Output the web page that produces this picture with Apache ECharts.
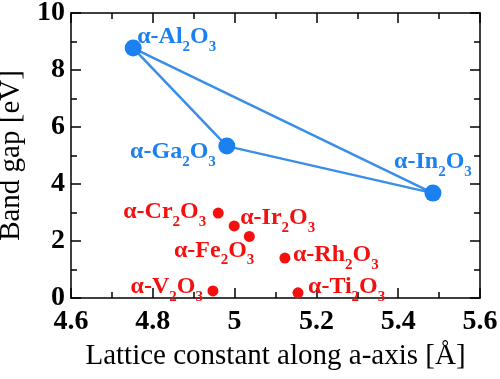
<!DOCTYPE html>
<html>
<head>
<meta charset="utf-8">
<script src="https://cdn.jsdelivr.net/npm/echarts@6/dist/echarts.min.js"></script>
<style>
  html, body { margin: 0; padding: 0; background: #fff; }
  #chart { width: 500px; height: 379px; }
</style>
</head>
<body>
<div id="chart"></div>
<script>
// group 13 sesquioxides (blue, joined as a triangle)
const blueNames = ['Al', 'Ga', 'In'];
const blueLattice = [4.752, 4.981, 5.485];
const blueGap = [8.77, 5.33, 3.68];

// transition metal sesquioxides (red)
const redNames = ['Cr', 'Ir', 'Fe', 'Rh', 'Ti', 'V'];
const redLattice = [4.960, 4.999, 5.036, 5.123, 5.155, 4.947];
const redGap = [2.98, 2.53, 2.16, 1.40, 0.18, 0.25];

// triangle outline order
const triangleOrder = [0, 1, 2, 0];

const xTicks = { min: 4.6, max: 5.6, interval: 0.2 };
const yTicks = { min: 0, max: 10, interval: 2 };

// label placement: [align, dx, dy] from the dot centre
const labelPlace = {
  Al: ['left', 4, -6],
  Ga: ['right', -11, 11],
  In: ['center', 0, -26],
  Cr: ['right', -12, 4],
  Ir: ['left', 6, -3],
  Fe: ['right', 5, 19],
  Rh: ['left', 8, 2],
  Ti: ['left', 10, -1],
  V: ['right', -10, 1],
};

const BLUE = '#1b80f0';
const LINE_BLUE = '#3a8ee8';
const RED = '#f51010';
const SERIF = '"Liberation Serif", "Times New Roman", serif';

function richFor(color) {
  return {
    m: { fontSize: 24, fontWeight: 'bold', fontFamily: SERIF, color, lineHeight: 24, padding: [0, 0, 10, 0] },
    s: { fontSize: 15, fontWeight: 'bold', fontFamily: SERIF, color, lineHeight: 15, padding: [10, 0, 0, 0] },
  };
}

function formula(el) {
  return `{m|α-${el}}{s|2}{m|O}{s|3}`;
}

function pointsWithLabels(names, xs, ys, color) {
  return names.map((n, i) => {
    const [align, dx, dy] = labelPlace[n];
    return {
      value: [xs[i], ys[i]],
      label: {
        show: true,
        position: 'inside',
        align,
        verticalAlign: 'middle',
        offset: [dx, dy],
        formatter: formula(n),
        rich: richFor(color),
      },
    };
  });
}

function boxAxis(extra) {
  return Object.assign({
    type: 'value',
    axisLine: { show: true, onZero: false, lineStyle: { color: '#000', width: 1.5 } },
    axisTick: { show: true, inside: true, length: 10, lineStyle: { color: '#000', width: 1.5 } },
    minorTick: { show: true, splitNumber: 2, length: 6, lineStyle: { color: '#000', width: 1.5 } },
    splitLine: { show: false },
  }, extra);
}

const chart = echarts.init(document.getElementById('chart'));

chart.setOption({
  animation: false,
  backgroundColor: '#fff',
  grid: { left: 71, right: 20, top: 13, bottom: 81, containLabel: false, outerBoundsMode: 'none' },
  xAxis: [
    boxAxis({
      position: 'bottom',
      min: xTicks.min, max: xTicks.max, interval: xTicks.interval,
      axisLabel: { fontSize: 28, fontWeight: 'bold', fontFamily: SERIF, color: '#000', margin: 10 },
      name: 'Lattice constant along a-axis [Å]',
      nameLocation: 'middle',
      nameGap: 44,
      nameTextStyle: { fontSize: 29, fontFamily: SERIF, color: '#000' },
    }),
    boxAxis({
      position: 'top',
      min: xTicks.min, max: xTicks.max, interval: xTicks.interval,
      axisLabel: { show: false },
    }),
  ],
  yAxis: [
    boxAxis({
      position: 'left',
      min: yTicks.min, max: yTicks.max, interval: yTicks.interval,
      axisLabel: { fontSize: 28, fontWeight: 'bold', fontFamily: SERIF, color: '#000', margin: 6 },
      name: 'Band gap [eV]',
      nameLocation: 'middle',
      nameGap: 37,
      nameTextStyle: { fontSize: 29, fontFamily: SERIF, color: '#000' },
    }),
    boxAxis({
      position: 'right',
      min: yTicks.min, max: yTicks.max, interval: yTicks.interval,
      axisLabel: { show: false },
    }),
  ],
  series: [
    {
      type: 'line',
      data: triangleOrder.map(i => [blueLattice[i], blueGap[i]]),
      showSymbol: false,
      symbol: 'none',
      lineStyle: { color: LINE_BLUE, width: 2.5, opacity: 1 },
      z: 2,
    },
    {
      type: 'scatter',
      data: pointsWithLabels(blueNames, blueLattice, blueGap, BLUE),
      symbolSize: 17,
      itemStyle: { color: BLUE, opacity: 1 },
      z: 3,
    },
    {
      type: 'scatter',
      data: pointsWithLabels(redNames, redLattice, redGap, RED),
      symbolSize: 11,
      itemStyle: { color: RED, opacity: 1 },
      z: 3,
    },
  ],
});

window.addEventListener('resize', () => chart.resize());
</script>
</body>
</html>
